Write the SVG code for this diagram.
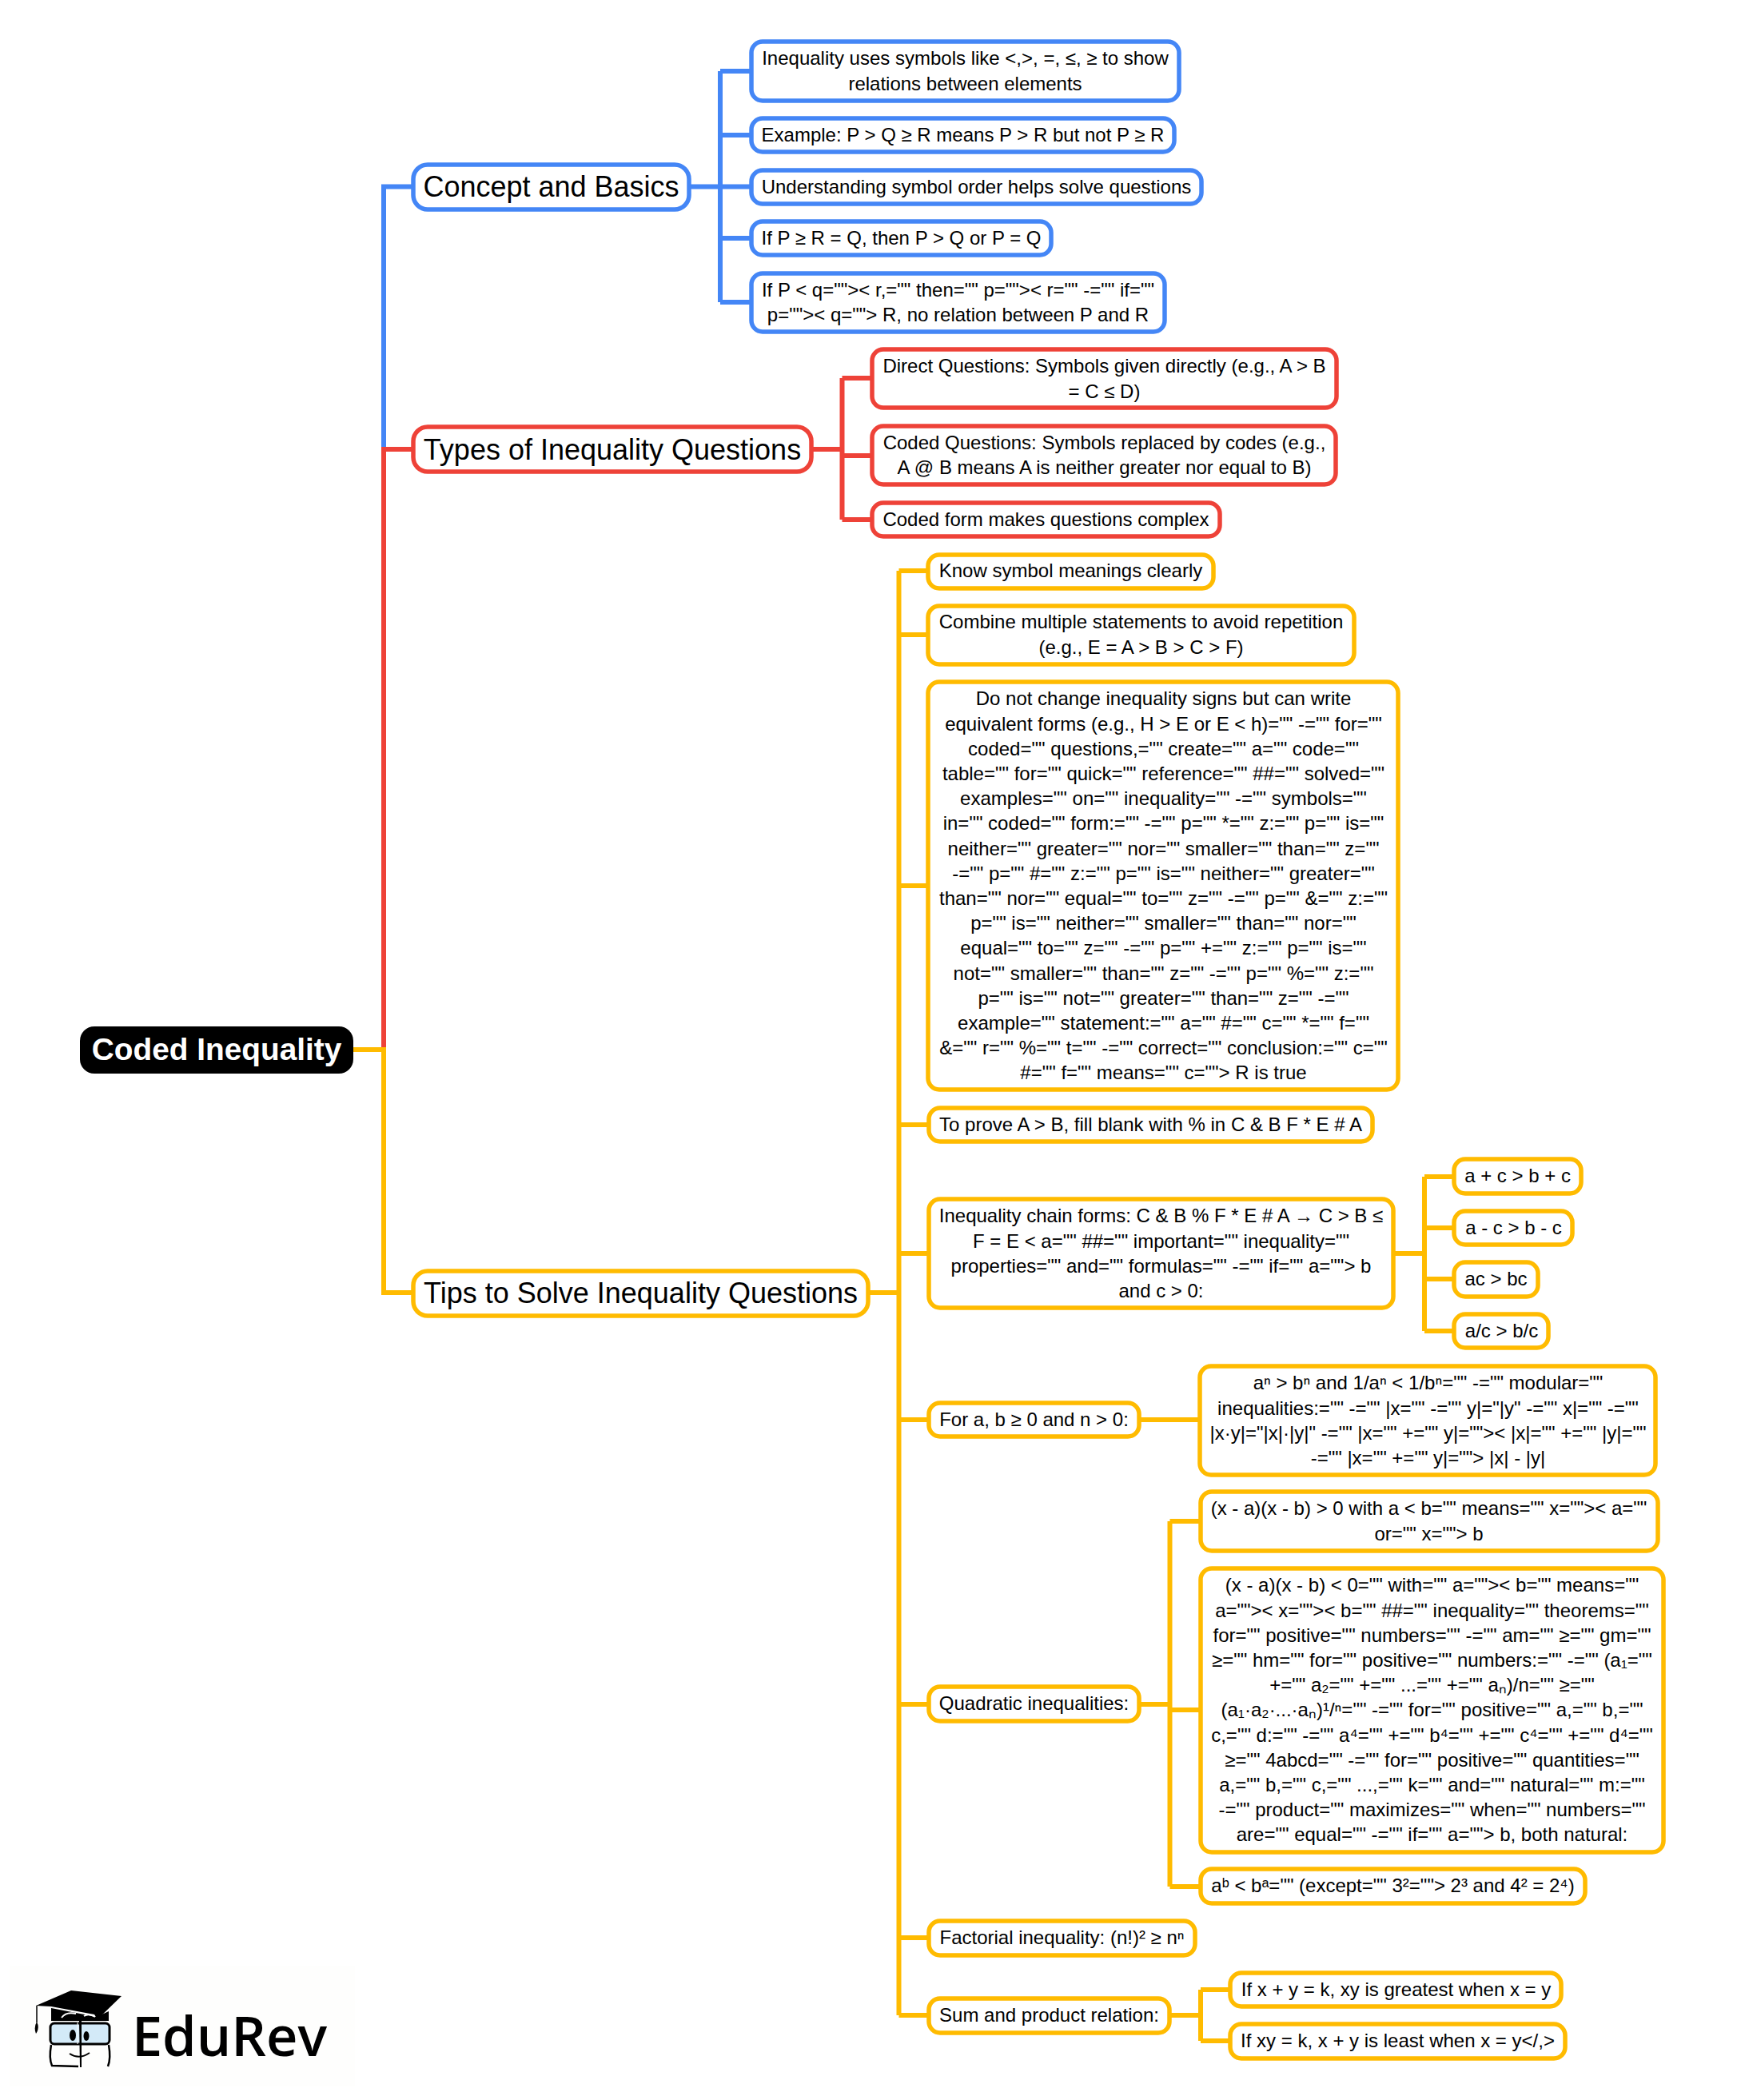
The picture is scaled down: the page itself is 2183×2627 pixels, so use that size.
<svg xmlns="http://www.w3.org/2000/svg" width="2183" height="2627" viewBox="0 0 2183 2627">
<style>
text{font-family:"Liberation Sans",Arial,sans-serif;fill:#000;text-anchor:middle}
.lf{font-size:24px}
.tp{font-size:36px}
.box{fill:#fff;stroke-width:5.5}
.b{stroke:#4486f6}.r{stroke:#ee4238}.y{stroke:#ffbb00}
.c{fill:none;stroke-width:6;stroke-linejoin:miter}
</style>
<rect width="2183" height="2627" fill="#fff"/>
<g id="connectors">
<path class="c b" d="M516 233.5H480V562M864 233.5H938M901 378V89M901 89H938M901 169H938M901 298H938M901 378H938"/>
<path class="c r" d="M516 562H480V1313M1017 562H1053.500M1053.500 473V650M1053.500 473H1089M1053.500 570H1089M1053.500 650H1089"/>
<path class="c y" d="M442 1313H480V1617H516M1088 1617H1124.500M1124.500 714V2521M1124.500 714H1160M1124.500 794H1160M1124.500 1108H1160M1124.500 1407H1160M1124.500 1568H1160M1124.500 1776H1160M1124.500 2132H1160M1124.500 2424H1160M1124.500 2521H1160"/>
<path class="c y" d="M1745 1568H1782M1782 1472V1665M1782 1472H1817M1782 1536H1817M1782 1600H1817M1782 1665H1817M1427 1776H1499M1427 2132H1463.500M1463.500 1903V2360M1463.500 1903H1500M1463.500 2139H1500M1463.500 2360H1500M1465 2521H1502M1502 2489V2553M1502 2489H1537M1502 2553H1537"/>
</g>
<g id="root"><rect x="100" y="1284" width="342" height="59" rx="18" fill="#000"/><text x="271" y="1326" font-size="38.800" font-weight="700" style="fill:#fff">Coded Inequality</text></g>
<g id="concept"><rect class="box b" x="517" y="206" width="345" height="56" rx="18"/><text class="tp" x="689.500" y="246">Concept and Basics</text></g>
<g id="types"><rect class="box r" x="517" y="534" width="498" height="56" rx="18"/><text class="tp" x="766" y="575">Types of Inequality Questions</text></g>
<g id="tips"><rect class="box y" x="517" y="1590" width="569" height="56" rx="18"/><text class="tp" x="801.500" y="1630">Tips to Solve Inequality Questions</text></g>

<g id="b1"><rect class="box b" x="940" y="52" width="535" height="74" rx="14"/><text class="lf" x="1207.500" y="81">Inequality uses symbols like &lt;,&gt;, =, ≤, ≥ to show</text><text class="lf" x="1207.500" y="113">relations between elements</text></g>
<g id="b2"><rect class="box b" x="940" y="148" width="529" height="42" rx="14"/><text class="lf" x="1204.500" y="177">Example: P &gt; Q ≥ R means P &gt; R but not P ≥ R</text></g>
<g id="b3"><rect class="box b" x="940" y="213" width="563" height="42" rx="14"/><text class="lf" x="1221.500" y="242">Understanding symbol order helps solve questions</text></g>
<g id="b4"><rect class="box b" x="940" y="277" width="375" height="42" rx="14"/><text class="lf" x="1127.500" y="306">If P ≥ R = Q, then P &gt; Q or P = Q</text></g>
<g id="b5"><rect class="box b" x="940" y="342" width="517" height="73" rx="14"/><text class="lf" x="1198.500" y="371">If P &lt; q=""&gt;&lt; r,="" then="" p=""&gt;&lt; r="" -="" if=""</text><text class="lf" x="1198.500" y="402">p=""&gt;&lt; q=""&gt; R, no relation between P and R</text></g>

<g id="r1"><rect class="box r" x="1091" y="437" width="581" height="73" rx="14"/><text class="lf" x="1381.500" y="466">Direct Questions: Symbols given directly (e.g., A &gt; B</text><text class="lf" x="1381.500" y="498">= C ≤ D)</text></g>
<g id="r2"><rect class="box r" x="1091" y="533" width="580" height="73" rx="14"/><text class="lf" x="1381.500" y="562">Coded Questions: Symbols replaced by codes (e.g.,</text><text class="lf" x="1381.500" y="593">A @ B means A is neither greater nor equal to B)</text></g>
<g id="r3"><rect class="box r" x="1091" y="629" width="435" height="42" rx="14"/><text class="lf" x="1308.500" y="658">Coded form makes questions complex</text></g>

<g id="y1"><rect class="box y" x="1161" y="694" width="357" height="42" rx="14"/><text class="lf" x="1339.500" y="722">Know symbol meanings clearly</text></g>
<g id="y2"><rect class="box y" x="1161" y="758" width="533" height="73" rx="14"/><text class="lf" x="1427.500" y="786">Combine multiple statements to avoid repetition</text><text class="lf" x="1427.500" y="818">(e.g., E = A &gt; B &gt; C &gt; F)</text></g>
<g id="y3"><rect class="box y" x="1161" y="853" width="588" height="510" rx="14"/>
<g class="lf">
<text x="1455.500" y="882">Do not change inequality signs but can write</text>
<text x="1455.500" y="914">equivalent forms (e.g., H &gt; E or E &lt; h)="" -="" for=""</text>
<text x="1455.500" y="945">coded="" questions,="" create="" a="" code=""</text>
<text x="1455.500" y="976">table="" for="" quick="" reference="" ##="" solved=""</text>
<text x="1455.500" y="1007">examples="" on="" inequality="" -="" symbols=""</text>
<text x="1455.500" y="1038">in="" coded="" form:="" -="" p="" *="" z:="" p="" is=""</text>
<text x="1455.500" y="1070">neither="" greater="" nor="" smaller="" than="" z=""</text>
<text x="1455.500" y="1101">-="" p="" #="" z:="" p="" is="" neither="" greater=""</text>
<text x="1455.500" y="1132">than="" nor="" equal="" to="" z="" -="" p="" &amp;="" z:=""</text>
<text x="1455.500" y="1163">p="" is="" neither="" smaller="" than="" nor=""</text>
<text x="1455.500" y="1194">equal="" to="" z="" -="" p="" +="" z:="" p="" is=""</text>
<text x="1455.500" y="1226">not="" smaller="" than="" z="" -="" p="" %="" z:=""</text>
<text x="1455.500" y="1257">p="" is="" not="" greater="" than="" z="" -=""</text>
<text x="1455.500" y="1288">example="" statement:="" a="" #="" c="" *="" f=""</text>
<text x="1455.500" y="1319">&amp;="" r="" %="" t="" -="" correct="" conclusion:="" c=""</text>
<text x="1455.500" y="1350">#="" f="" means="" c=""&gt; R is true</text>
</g></g>
<g id="y4"><rect class="box y" x="1162" y="1386" width="555" height="42" rx="14"/><text class="lf" x="1439.500" y="1415">To prove A &gt; B, fill blank with % in C &amp; B F * E # A</text></g>
<g id="y5"><rect class="box y" x="1162" y="1500" width="581" height="136" rx="14"/>
<g class="lf">
<text x="1452.500" y="1529">Inequality chain forms: C &amp; B % F * E # A → C &gt; B ≤</text>
<text x="1452.500" y="1561">F = E &lt; a="" ##="" important="" inequality=""</text>
<text x="1452.500" y="1592">properties="" and="" formulas="" -="" if="" a=""&gt; b</text>
<text x="1452.500" y="1623">and c &gt; 0:</text>
</g></g>
<g id="y5a"><rect class="box y" x="1819" y="1450" width="159" height="43" rx="14"/><text class="lf" x="1898.500" y="1479">a + c &gt; b + c</text></g>
<g id="y5b"><rect class="box y" x="1819" y="1515" width="148" height="42" rx="14"/><text class="lf" x="1893.500" y="1544">a - c &gt; b - c</text></g>
<g id="y5c"><rect class="box y" x="1819" y="1579" width="105" height="43" rx="14"/><text class="lf" x="1871.500" y="1608">ac &gt; bc</text></g>
<g id="y5d"><rect class="box y" x="1819" y="1644" width="118" height="42" rx="14"/><text class="lf" x="1878.500" y="1673">a/c &gt; b/c</text></g>
<g id="y6"><rect class="box y" x="1162" y="1755" width="263" height="42" rx="14"/><text class="lf" x="1293.500" y="1784">For a, b ≥ 0 and n &gt; 0:</text></g>
<g id="y6a"><rect class="box y" x="1501" y="1709" width="570" height="136" rx="14"/>
<g class="lf">
<text x="1786.500" y="1738">aⁿ &gt; bⁿ and 1/aⁿ &lt; 1/bⁿ="" -="" modular=""</text>
<text x="1786.500" y="1770">inequalities:="" -="" |x="" -="" y|="|y" -="" x|="" -=""</text>
<text x="1786.500" y="1801">|x·y|="|x|·|y|" -="" |x="" +="" y|=""&gt;&lt; |x|="" +="" |y|=""</text>
<text x="1786.500" y="1832">-="" |x="" +="" y|=""&gt; |x| - |y|</text>
</g></g>
<g id="y7"><rect class="box y" x="1162" y="2110" width="263" height="43" rx="14"/><text class="lf" x="1293.500" y="2139">Quadratic inequalities:</text></g>
<g id="y7a"><rect class="box y" x="1502" y="1866" width="572" height="74" rx="14"/><text class="lf" x="1787.500" y="1895">(x - a)(x - b) &gt; 0 with a &lt; b="" means="" x=""&gt;&lt; a=""</text><text class="lf" x="1787.500" y="1927">or="" x=""&gt; b</text></g>
<g id="y7b"><rect class="box y" x="1502" y="1962" width="579" height="355" rx="14"/>
<g class="lf">
<text x="1791.500" y="1991">(x - a)(x - b) &lt; 0="" with="" a=""&gt;&lt; b="" means=""</text>
<text x="1791.500" y="2023">a=""&gt;&lt; x=""&gt;&lt; b="" ##="" inequality="" theorems=""</text>
<text x="1791.500" y="2054">for="" positive="" numbers="" -="" am="" ≥="" gm=""</text>
<text x="1791.500" y="2085">≥="" hm="" for="" positive="" numbers:="" -="" (a₁=""</text>
<text x="1791.500" y="2116">+="" a₂="" +="" ...="" +="" aₙ)/n="" ≥=""</text>
<text x="1791.500" y="2147">(a₁·a₂·...·aₙ)¹/ⁿ="" -="" for="" positive="" a,="" b,=""</text>
<text x="1791.500" y="2179">c,="" d:="" -="" a⁴="" +="" b⁴="" +="" c⁴="" +="" d⁴=""</text>
<text x="1791.500" y="2210">≥="" 4abcd="" -="" for="" positive="" quantities=""</text>
<text x="1791.500" y="2241">a,="" b,="" c,="" ...,="" k="" and="" natural="" m:=""</text>
<text x="1791.500" y="2272">-="" product="" maximizes="" when="" numbers=""</text>
<text x="1791.500" y="2303">are="" equal="" -="" if="" a=""&gt; b, both natural:</text>
</g></g>
<g id="y7c"><rect class="box y" x="1502" y="2338" width="481" height="43" rx="14"/><text class="lf" x="1742.500" y="2367">aᵇ &lt; bᵃ="" (except="" 3²=""&gt; 2³ and 4² = 2⁴)</text></g>
<g id="y8"><rect class="box y" x="1162" y="2403" width="333" height="43" rx="14"/><text class="lf" x="1328.500" y="2432">Factorial inequality: (n!)² ≥ nⁿ</text></g>
<g id="y9"><rect class="box y" x="1162" y="2500" width="301" height="43" rx="14"/><text class="lf" x="1312.500" y="2529">Sum and product relation:</text></g>
<g id="y9a"><rect class="box y" x="1539" y="2468" width="414" height="42" rx="14"/><text class="lf" x="1746.500" y="2497">If x + y = k, xy is greatest when x = y</text></g>
<g id="y9b"><rect class="box y" x="1539" y="2532" width="419" height="43" rx="14"/><text class="lf" x="1748.500" y="2561">If xy = k, x + y is least when x = y&lt;/,&gt;</text></g>

<g id="logo">
<rect x="12" y="2459" width="432" height="151" fill="#fefefd"/>
<path d="M64 2512V2528H136V2516L121 2523Z" fill="#000"/>
<path d="M77 2524q6-8 18-5M105 2522q6-4 14 1" fill="none" stroke="#fff" stroke-width="2"/>
<path d="M45 2509L89 2490L152 2497L122 2526L118 2520L64 2510Z" fill="#000"/>
<path d="M46 2509V2530" stroke="#000" stroke-width="1.500"/>
<path d="M46 2529q4 8 -1 15q-3-8 1-15Z" fill="#000"/>
<rect x="63" y="2531" width="74" height="26" rx="5" fill="#d3eaf8" stroke="#000" stroke-width="3"/>
<path d="M64 2558Q61 2575 65 2584L98 2585M136 2558Q139 2575 135 2585" fill="none" stroke="#000" stroke-width="2.500"/>
<path d="M99 2528H102V2586H100Z" fill="#000"/>
<path d="M97 2530V2557" stroke="#fff" stroke-width="1"/>
<ellipse cx="91" cy="2546" rx="4" ry="7" fill="#000"/><ellipse cx="108" cy="2547" rx="3.500" ry="6" fill="#000"/>
<path d="M87 2569q12 8 25-1" fill="none" stroke="#000" stroke-width="2"/>
<text x="287" y="2572" font-size="68.500" font-weight="600" style="font-family:'Open Sans','Noto Sans',sans-serif">EduRev</text>
</g>
</svg>
